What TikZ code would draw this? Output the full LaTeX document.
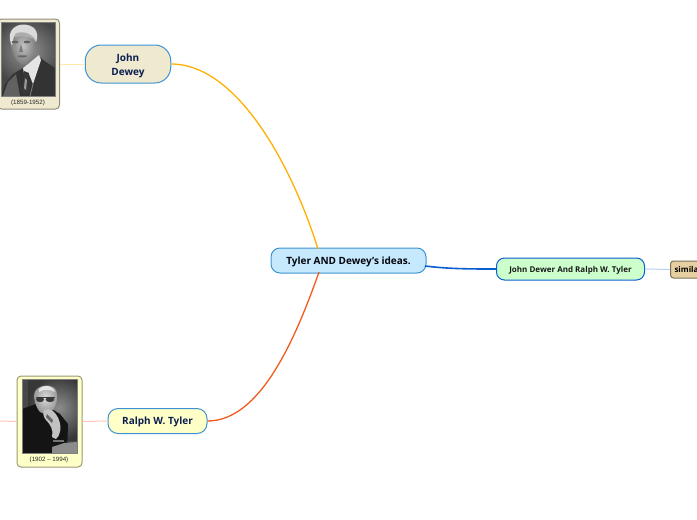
\documentclass[tikz,border=0pt]{standalone}
\usepackage{fontspec}
\setmainfont{Open Sans}
\newfontfamily\capfont{Liberation Sans}
\usetikzlibrary{calc}
\definecolor{rootfill}{HTML}{C6E9FD}
\definecolor{nodeline}{HTML}{3D93D1}
\definecolor{deweyfill}{HTML}{EFE9CF}
\definecolor{tylerfill}{HTML}{FFFFC8}
\definecolor{greenfill}{HTML}{CCFFCC}
\definecolor{blueline}{HTML}{0A5FD0}
\definecolor{tanfill}{HTML}{E6CFA0}
\definecolor{navy}{HTML}{0A1E50}
\definecolor{amberline}{HTML}{FFB000}
\definecolor{redline}{HTML}{F25A20}
\definecolor{amberpale}{HTML}{FFE9A8}
\definecolor{redpale}{HTML}{FFC4B4}
\definecolor{bluepale}{HTML}{B8D0F2}
\newcommand{\onebase}[2]{\raisebox{-#1}[0pt][0pt]{#2}}
\tikzset{
 x=1pt,y=-1pt,
 topic/.style={draw=nodeline,line width=1pt,align=center,inner sep=0pt,font=\bfseries,text=navy},
 card/.style={draw=#1,line width=1pt,rounded corners=4pt,inner sep=0pt},
 caption/.style={font=\capfont\fontsize{6.2}{7}\selectfont,text=black!85,inner sep=0pt},
 link/.style={line width=1.3pt}
}
\begin{document}
\begin{tikzpicture}
\useasboundingbox (0,0) rectangle (697,520);
\clip (0,0) rectangle (697,520);
\coordinate (rootN) at (318,249);
\coordinate (rootS) at (319,272);
\coordinate (rootE) at (425,266);
\coordinate (offT) at (0,421);
% cards
\node[card=black!40!deweyfill,fill=deweyfill,minimum width=62pt,minimum height=90pt] (cardD) at (28.5,64) {};
\node[card=black!40!tylerfill,fill=tylerfill,minimum width=65pt,minimum height=91pt] (cardT) at (49.5,421.5) {};
\node[caption] (capD) at (28,102.5) {(1859-1952)};
\node[caption] (capT) at (49,459.5) {(1902 – 1994)};
% portrait Dewey
\begin{scope}
\clip (1,22) rectangle (55,96);
\fill[black!72] (1,22) rectangle (55,96);
\shade[inner color=black!42,outer color=black!72] (-8,18) rectangle (62,84);
% jacket
\fill[black!80] (1,96) -- (5,84) -- (13,74) -- (23,68) -- (38,56) -- (46,62) -- (55,68) -- (55,96) -- cycle;
\fill[black!62] (3,96) -- (8,82) -- (16,74) -- (20,96) -- cycle;
% shirt and collar
\fill[black!10] (23,68) -- (39,55) -- (41,60) -- (33,84) -- (29,74) -- (24,73) -- cycle;
% tie
\fill[black!78] (24,71) -- (29,73) -- (28,80) -- (30,92) -- (24,96) -- (21,90) -- (24,80) -- cycle;
\fill[black!40] (25,78) -- (27,80) -- (26,90) -- (24,88) -- cycle;
\draw[black!50,line width=.8pt] (33,84) -- (30,96);
% head
\shade[inner color=black!24,outer color=black!52] (10,36) .. controls (10,26) and (35,26) .. (35,38) .. controls (36,52) and (32,65) .. (24,65) .. controls (16,65) and (10,50) .. (10,36) -- cycle;
% hair
\fill[black!14] (10,40) .. controls (7,26) and (24,20) .. (34,28) .. controls (38,32) and (38,38) .. (36,42) .. controls (32,34) and (22,31) .. (16,34) .. controls (13,36) and (13,42) .. (12,46) -- cycle;
\fill[black!32] (15,34) .. controls (21,30) and (31,33) .. (36,40) .. controls (30,37) and (22,35) .. (15,37) -- cycle;
% features
\fill[black!62] (15,42) ellipse (3.5 and 1.3);
\fill[black!62] (27,42) ellipse (3.5 and 1.3);
\fill[black!52] (21,44) -- (23,52) -- (19,52) -- cycle;
\fill[black!60] (17,56) .. controls (20,55) and (24,55) .. (28,56) .. controls (24,58) and (20,58) .. (17,56) -- cycle;
\end{scope}
% portrait Tyler
\begin{scope}
\clip (22,379) rectangle (77,453);
\fill[black!72] (22,379) rectangle (77,453);
\shade[inner color=black!45,outer color=black!78] (28,376) rectangle (90,440);
% body
\fill[black!92] (22,453) -- (22,409) -- (36,404) -- (50,408) -- (60,414) -- (68,424) -- (67,453) -- cycle;
% head
\shade[inner color=black!14,outer color=black!42] (34,396) .. controls (33,384) and (57,381) .. (57,394) .. controls (58,406) and (52,414) .. (45,414) .. controls (39,414) and (35,406) .. (34,396) -- cycle;
\fill[black!10] (39,389) .. controls (44,384) and (52,385) .. (55,392) .. controls (50,389) and (44,389) .. (39,392) -- cycle;
% glasses
\fill[black!78] (40,399.5) ellipse (4 and 2.6);
\fill[black!78] (50,399.5) ellipse (4.4 and 2.6);
\fill[black!78] (36,396.5) rectangle (55,398);
% hand and arm
\fill[black!24] (44,410) .. controls (50,407) and (56,412) .. (59,420) .. controls (62,428) and (60,436) .. (56,439) -- (52,437) .. controls (54,430) and (50,424) .. (46,420) .. controls (43,417) and (43,413) .. (44,410) -- cycle;
\fill[black!60] (47,414) -- (53,420) -- (52,423) -- (46,417) -- cycle;
\fill[black!55] (53,440) rectangle (64,442);
% lower right
\fill[black!45] (52,447) -- (64,443) -- (77,442) -- (77,453) -- (52,453) -- cycle;
\end{scope}
\draw[black!50,line width=.4pt] (1,22) rectangle (55,96);
\draw[black!50,line width=.4pt] (22,379) rectangle (77,453);
% topics
\node[topic,fill=rootfill,rounded corners=9pt,minimum width=155pt,minimum height=25pt,font=\bfseries\fontsize{10}{12}\selectfont,text=black!85!navy] (root) at (348.5,260.5) {\onebase{3.5pt}{Tyler AND Dewey's ideas.}};
\node[topic,fill=deweyfill,rounded corners=16pt,minimum width=85.5pt,minimum height=38pt,label={[font=\bfseries\fontsize{10}{14}\selectfont,text=navy,align=center,inner sep=0pt,yshift=-1.6pt]center:John\\[.3pt]Dewey}] (dewey) at (128,64) {};
\node[topic,fill=tylerfill,rounded corners=10pt,minimum width=99pt,minimum height=25pt,font=\bfseries\fontsize{10}{12}\selectfont] (tyler) at (157.5,421) {\onebase{3.7pt}{Ralph W. Tyler}};
\node[topic,fill=greenfill,draw=blueline,rounded corners=8pt,minimum width=148pt,minimum height=22pt,font=\bfseries\fontsize{8}{10}\selectfont,text=black!90] (both) at (570.5,269) {\onebase{3pt}{John Dewer And Ralph W. Tyler}};
\node[topic,fill=tanfill,draw=black!45!tanfill,rounded corners=3pt,minimum width=60pt,minimum height=17pt,font=\bfseries\fontsize{8}{10}\selectfont,text=black,anchor=west,align=left,text width=54pt] (sim) at (670,269.5) {\hspace*{1pt}simila};
% connectors
\draw[link,color=amberline] (dewey.east) .. controls (235,64) and (290,160) .. (rootN);
\draw[link,color=redline] (tyler.east) .. controls (260,421) and (295,340) .. (rootS);
\draw[link,color=blueline,line width=1.6pt] (rootE) .. controls (450,269) and (470,269) .. (both.west);
\draw[line width=1pt,color=amberpale] (cardD.east) -- (dewey.west);
\draw[line width=1pt,color=redpale] (cardT.east) -- (tyler.west);
\draw[line width=1pt,color=redpale] (offT) -- (cardT.west);
\draw[line width=1pt,color=bluepale] (both.east) -- (sim.west);
\end{tikzpicture}
\end{document}
